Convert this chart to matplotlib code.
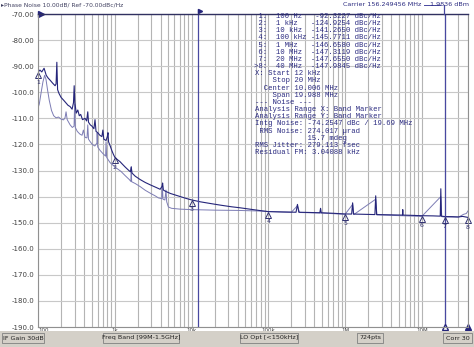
import matplotlib
matplotlib.use("Agg")
import matplotlib.pyplot as plt
from matplotlib.patches import Rectangle
from matplotlib.lines import Line2D
from matplotlib.ticker import LogLocator, NullFormatter
import matplotlib.transforms as mtransforms

# trace 1 (dark, upper)
freq_a = [100, 106, 112, 120, 128, 135, 145, 155, 167, 172, 176, 180, 188, 200,
          215, 230, 246, 262, 278, 290, 296, 302, 315, 330, 345, 360, 380, 410,
          430, 445, 455, 480, 505, 535, 553, 570, 600, 640, 680, 700, 720, 770,
          800, 816, 830, 870, 920, 960, 1000, 1080, 1170, 1250, 1370, 1500, 1600,
          1640, 1680, 1850, 2150, 2500, 2900, 3400, 3900, 4150, 4200, 4300, 4600,
          5300, 6150, 7140, 8500, 10000, 13000, 18000, 24000, 33000, 43000, 60000,
          80000, 100000, 150000, 230000, 240000, 250000, 350000, 470000, 480000,
          490000, 700000, 1000000, 1220000, 1256000, 1290000, 1800000, 2450000,
          2510000, 2580000, 4000000, 5600000, 5650000, 5700000, 7500000, 10000000,
          14000000, 17400000, 17700000, 18000000, 20000000, 25000000, 30000000,
          34000000, 40000000]
noise_a = [-92.3, -91.5, -92.2, -90.8, -93.5, -94.5, -95.5, -96.5, -97.5, -96.8,
           -88.5, -99.0, -100.5, -102, -103, -104, -105, -105.5, -106.5, -104,
           -97.5, -104, -108, -106.8, -109, -108.5, -110.5, -110, -111, -107.5,
           -111.5, -112.5, -113, -114, -110.5, -115, -115.5, -116.5, -117, -114.5,
           -118, -118.5, -117, -115.5, -119, -120.5, -122.5, -123.8, -124.9,
           -125.8, -126.6, -127.5, -128.7, -129.8, -130.5, -128.8, -131, -132.2,
           -133.5, -134.6, -135.5, -136.4, -137.2, -136, -134.8, -137.5, -138,
           -138.8, -139.4, -140, -140.7, -141.27, -142, -142.7, -143.3, -143.9,
           -144.3, -144.9, -145.4, -145.77, -145.9, -146, -143, -146, -146.1,
           -146.2, -144.5, -146.2, -146.4, -146.66, -146.7, -142.4, -146.7,
           -146.8, -146.9, -139.7, -146.9, -147, -147.1, -145, -147.1, -147.2,
           -147.33, -147.4, -147.5, -137, -147.5, -147.66, -147.7, -147.8,
           -147.6, -147.98]

# trace 2 (light, lower)
freq_b = [100, 104, 110, 116, 122, 127, 133, 140, 150, 160, 172, 185, 200, 215,
          225, 232, 240, 262, 280, 295, 300, 306, 325, 350, 375, 390, 410, 435,
          445, 455, 480, 510, 550, 585, 590, 600, 640, 700, 760, 770, 785, 870,
          950, 1000, 1100, 1200, 1370, 1550, 1620, 1640, 1660, 1850, 2150, 2500,
          2900, 3400, 3700, 4100, 4160, 4250, 4500, 4650, 4750, 5000, 5500, 7000,
          10000, 20000, 40000, 70000, 100000, 200000, 240000, 255000, 480000,
          1000000, 1256000, 1300000, 2510000, 2600000, 5000000, 10000000,
          17700000, 18200000, 20000000, 30000000, 35000000, 38000000, 40000000]
noise_b = [-106, -104.5, -100, -96, -93.5, -95, -99, -103, -107, -109, -109.8,
           -109.5, -110.3, -110.6, -109.8, -107.5, -110.5, -112.5, -113.5, -113,
           -104.5, -113.5, -115, -116, -116.5, -114.5, -117.3, -117.5, -112.5,
           -118, -119, -120, -120.6, -119.5, -115.5, -121, -122.2, -123.5, -124.5,
           -119, -125, -127, -128, -128.6, -129.5, -130.3, -132, -133.5, -134.2,
           -128.5, -134.3, -135, -136.2, -137.6, -138.7, -139.8, -140.5, -140.8,
           -135.2, -141, -141.3, -137.5, -142, -144, -144.5, -144.8, -145.0,
           -145.2, -145.3, -145.5, -145.7, -146.0, -143.5, -146.1, -146.3, -146.8,
           -143, -146.9, -141, -147, -147.3, -147.6, -140, -147.7, -147.8, -147.9,
           -146.8, -146.5, -145.5]

marker_freq = [100, 1e3, 1e4, 1e5, 1e6, 1e7, 2e7, 4e7]
marker_val = [-92.3227, -124.9254, -141.2650, -145.7711, -146.6580, -147.3119,
              -147.6550, -147.9845]
marker_freq_txt = ["100 Hz", "1 kHz", "10 kHz", "100 kHz", "1 MHz", "10 MHz",
                   "20 MHz", "40 MHz"]

y_ticks = list(range(-70, -191, -10))
y_labels = ["-70.00", "-80.00", "-90.00"] + ["%.1f" % v for v in range(-100, -191, -10)]
x_ticks = [1e2, 1e3, 1e4, 1e5, 1e6, 1e7]
x_labels = ["100", "1k", "10k", "100k", "1M", "10M"]

info_lines = ["X: Start 12 kHz", "    Stop 20 MHz", "  Center 10.006 MHz",
              "    Span 19.988 MHz", "--- Noise ---",
              "Analysis Range X: Band Marker", "Analysis Range Y: Band Marker",
              "Intg Noise: -74.2547 dBc / 19.69 MHz", " RMS Noise: 274.017 \u00b5rad",
              "            15.7 mdeg", "RMS Jitter: 279.113 fsec",
              "Residual FM: 3.04088 kHz"]

W, H = 474, 347
navy = "#25257a"
light = "#7c7cb4"
txtc = "#2a2a80"

fig = plt.figure(figsize=(W / 100, H / 100), dpi=100)
fig.patch.set_facecolor("white")
ax = fig.add_axes([38 / W, 20 / H, 430 / W, 313 / H])

ax.set_xscale("log")
ax.set_xlim(100, 4e7)
ax.set_ylim(-190, -70)
ax.xaxis.set_minor_locator(LogLocator(base=10, subs=range(2, 10)))
ax.xaxis.set_minor_formatter(NullFormatter())
ax.set_xticks(x_ticks)
ax.set_xticklabels(x_labels)
ax.set_yticks(y_ticks)
ax.set_yticklabels(y_labels)
ax.tick_params(which="both", length=0)
ax.tick_params(axis="x", labelsize=4, pad=0.8, colors="#404040")
ax.tick_params(axis="y", labelsize=5, pad=2.5, colors="#404040")
ax.get_xticklabels()[0].set_horizontalalignment("left")
ax.grid(which="both", axis="x", color="#b4b4b4", lw=0.8)
ax.grid(which="major", axis="y", color="#c8c8c8", lw=0.8)
ax.set_axisbelow(True)
for s in ["left", "bottom", "right"]:
    ax.spines[s].set_color("#909090")
    ax.spines[s].set_linewidth(0.8)
ax.spines["top"].set_color("#303060")
ax.spines["top"].set_linewidth(1.0)

ax.plot(freq_b, noise_b, color=light, lw=0.7)
ax.plot(freq_a, noise_a, color=navy, lw=0.8)

# band marker lines
for f in [12e3, 2e7]:
    ax.axvline(f, color="#4848a0", lw=0.9)
fig.add_artist(Line2D([444 / W, 444 / W], [1 - 5 / H, 1 - 14 / H], color="#4848a0", lw=0.9))
fig.add_artist(Line2D([424 / W, 440 / W], [1 - 5 / H, 1 - 5 / H], color="#4848a0", lw=0.7))
ax.plot([12e3], [-70], marker=">", ms=3, color=navy, clip_on=False,
        transform=mtransforms.offset_copy(ax.transData, fig=fig, x=2, y=3, units="dots"))
ax.plot([2e7], [-190], marker="^", ms=4, mfc="white", mec=navy, clip_on=False)
ax.plot([4e7], [-190], marker="^", ms=4, color=navy, clip_on=False)
ax.plot([100], [-70], marker=">", ms=4, color=navy, clip_on=False,
        transform=mtransforms.offset_copy(ax.transData, fig=fig, x=3, y=0, units="dots"))

# markers
tri = mtransforms.offset_copy(ax.transData, fig=fig, x=0, y=-3, units="dots")
for i, (f, v) in enumerate(zip(marker_freq, marker_val)):
    ax.plot([f], [v], marker="^", ms=4.5, mfc="none", mec="#303070", mew=0.7,
            clip_on=False, transform=tri)
    ax.annotate(str(i + 1), (f, v), xytext=(0, -10), textcoords="offset pixels",
                ha="center", va="center", fontsize=4.5, color="#303070")

# header
fig.text(1 / W, 1 - 5 / H, "\u25b8Phase Noise 10.00dB/ Ref -70.00dBc/Hz", fontsize=4.3,
         color="#404060", va="center", ha="left")
fig.text(421 / W, 1 - 5 / H, "Carrier 156.249456 MHz", fontsize=4.6, color=txtc,
         va="center", ha="right")
fig.text(469 / W, 1 - 5 / H, "1.9836 dBm", fontsize=4.6, color=txtc,
         va="center", ha="right")

# readout
mono = "Liberation Mono"
for i in range(8):
    prefix = ">" if i == 7 else " "
    y = 1 - (16.5 + 7.16 * i) / H
    line = "%s%d:  %-7s %9s dBc/Hz" % (prefix, i + 1, marker_freq_txt[i], "%.4f" % marker_val[i])
    fig.text(254 / W, y, line, fontsize=5.2, family=mono, color=txtc, va="center")
for j, line in enumerate(info_lines):
    y = 1 - (16.5 + 7.16 * (j + 8)) / H
    fig.text(255 / W, y, line, fontsize=5.2, family=mono, color=txtc, va="center")

# status bar
fig.add_artist(Rectangle((0, 0), 1, 16 / H, transform=fig.transFigure,
                         facecolor="#d4d0c8", edgecolor="none"))
boxes = [(2, 44, "IF Gain 30dB"), (103, 179, "Freq Band [99M-1.5GHz]"),
         (240, 298, "LO Opt [<150kHz]"), (357, 383, "724pts"), (443, 472, "Corr 30")]
for x0, x1, label in boxes:
    fig.add_artist(Rectangle((x0 / W, 4 / H), (x1 - x0) / W, 10 / H, transform=fig.transFigure,
                             facecolor="#d4d0c8", edgecolor="#808080", lw=0.6))
    fig.text((x0 + x1) / 2 / W, 9 / H, label, fontsize=4.6, color="#202020",
             ha="center", va="center")

fig.savefig("out.png", dpi=100)
